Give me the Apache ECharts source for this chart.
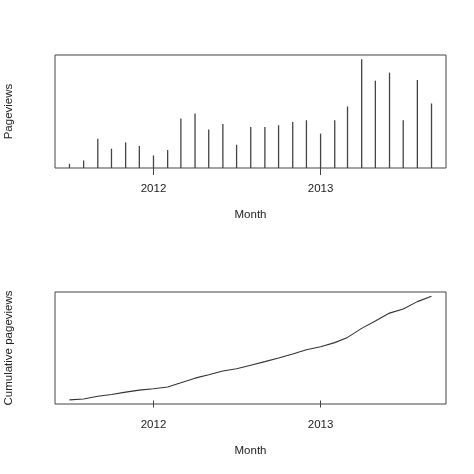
<!DOCTYPE html>
<html>
<head>
<meta charset="utf-8">
<script src="https://cdn.jsdelivr.net/npm/echarts@6/dist/echarts.min.js"></script>
<style>
html,body{margin:0;padding:0;background:#fff;}
#c{width:474px;height:474px;}
</style>
</head>
<body>
<div id="c"></div>
<script>
var months = ['2011-07','2011-08','2011-09','2011-10','2011-11','2011-12',
  '2012-01','2012-02','2012-03','2012-04','2012-05','2012-06','2012-07','2012-08','2012-09','2012-10','2012-11','2012-12',
  '2013-01','2013-02','2013-03','2013-04','2013-05','2013-06','2013-07','2013-08','2013-09'];
var pageviews = [69,99,294,204,261,228,144,192,474,519,375,426,240,399,399,414,444,459,339,459,582,1005,813,885,459,819,609];
var cumulativePageviews = [69,168,462,666,927,1155,1299,1491,1965,2484,2859,3285,3525,3924,4323,4737,5181,5640,5979,6438,7020,8025,8838,9723,10182,11001,11610];
var yearTicks = ['2012-01-01','2013-01-01'];
var yearLabels = ['2012','2013'];

var FONT = 'Liberation Sans, Arial, Helvetica, sans-serif';
var TXT = '#222';
var LN = '#444';

function ts(s){ return new Date(s + 'T00:00:00Z').getTime(); }
var dates = months.map(function(m){ return ts(m + '-01'); });
var t0 = dates[0], t1 = dates[dates.length-1], span = t1 - t0;
var tickVals = yearTicks.map(ts);

function pad(v){ return v.min - 0.04*(v.max - v.min); }
function padMax(v){ return v.max + 0.04*(v.max - v.min); }

function xAxisDef(gi){
  return {
    type: 'value', gridIndex: gi,
    min: t0 - 0.04*span, max: t1 + 0.04*span,
    name: 'Month', nameLocation: 'middle', nameGap: 41,
    nameTextStyle: {color: TXT, fontSize: 11.5, fontFamily: FONT},
    axisLine: {show: false},
    splitLine: {show: false},
    axisTick: {show: true, length: 7, customValues: tickVals, lineStyle: {color: LN, width: 1}},
    axisLabel: {show: true, margin: 15, customValues: tickVals, color: TXT, fontSize: 11.5, fontFamily: FONT,
      formatter: function(v){ var i = tickVals.indexOf(v); return i >= 0 ? yearLabels[i] : ''; }}
  };
}
function yAxisDef(gi, name){
  return {
    type: 'value', gridIndex: gi, min: pad, max: padMax, scale: true,
    name: name, nameLocation: 'middle', nameGap: 40, nameRotate: 90,
    nameTextStyle: {color: TXT, fontSize: 11.5, fontFamily: FONT},
    axisLine: {show: false}, axisTick: {show: false}, axisLabel: {show: false}, splitLine: {show: false}
  };
}

var chart = echarts.init(document.getElementById('c'), null, {renderer: 'canvas'});
chart.setOption({
  animation: false,
  backgroundColor: '#fff',
  grid: [
    {left: 55, right: 28, top: 55, height: 113, show: true, borderColor: LN, borderWidth: 1, backgroundColor: 'transparent', outerBoundsMode: 'none', containLabel: false},
    {left: 55, right: 28, top: 292, height: 112, show: true, borderColor: LN, borderWidth: 1, backgroundColor: 'transparent', outerBoundsMode: 'none', containLabel: false}
  ],
  xAxis: [xAxisDef(0), xAxisDef(1)],
  yAxis: [yAxisDef(0, 'Pageviews'), yAxisDef(1, 'Cumulative pageviews')],
  series: [
    {type: 'bar', xAxisIndex: 0, yAxisIndex: 0, barWidth: 1.3, clip: true,
     itemStyle: {color: LN},
     data: dates.map(function(d, i){ return [d, pageviews[i]]; })},
    {type: 'line', xAxisIndex: 1, yAxisIndex: 1, showSymbol: false, symbol: 'none',
     lineStyle: {color: '#333', width: 1.1},
     data: dates.map(function(d, i){ return [d, cumulativePageviews[i]]; })}
  ]
});
</script>
</body>
</html>
